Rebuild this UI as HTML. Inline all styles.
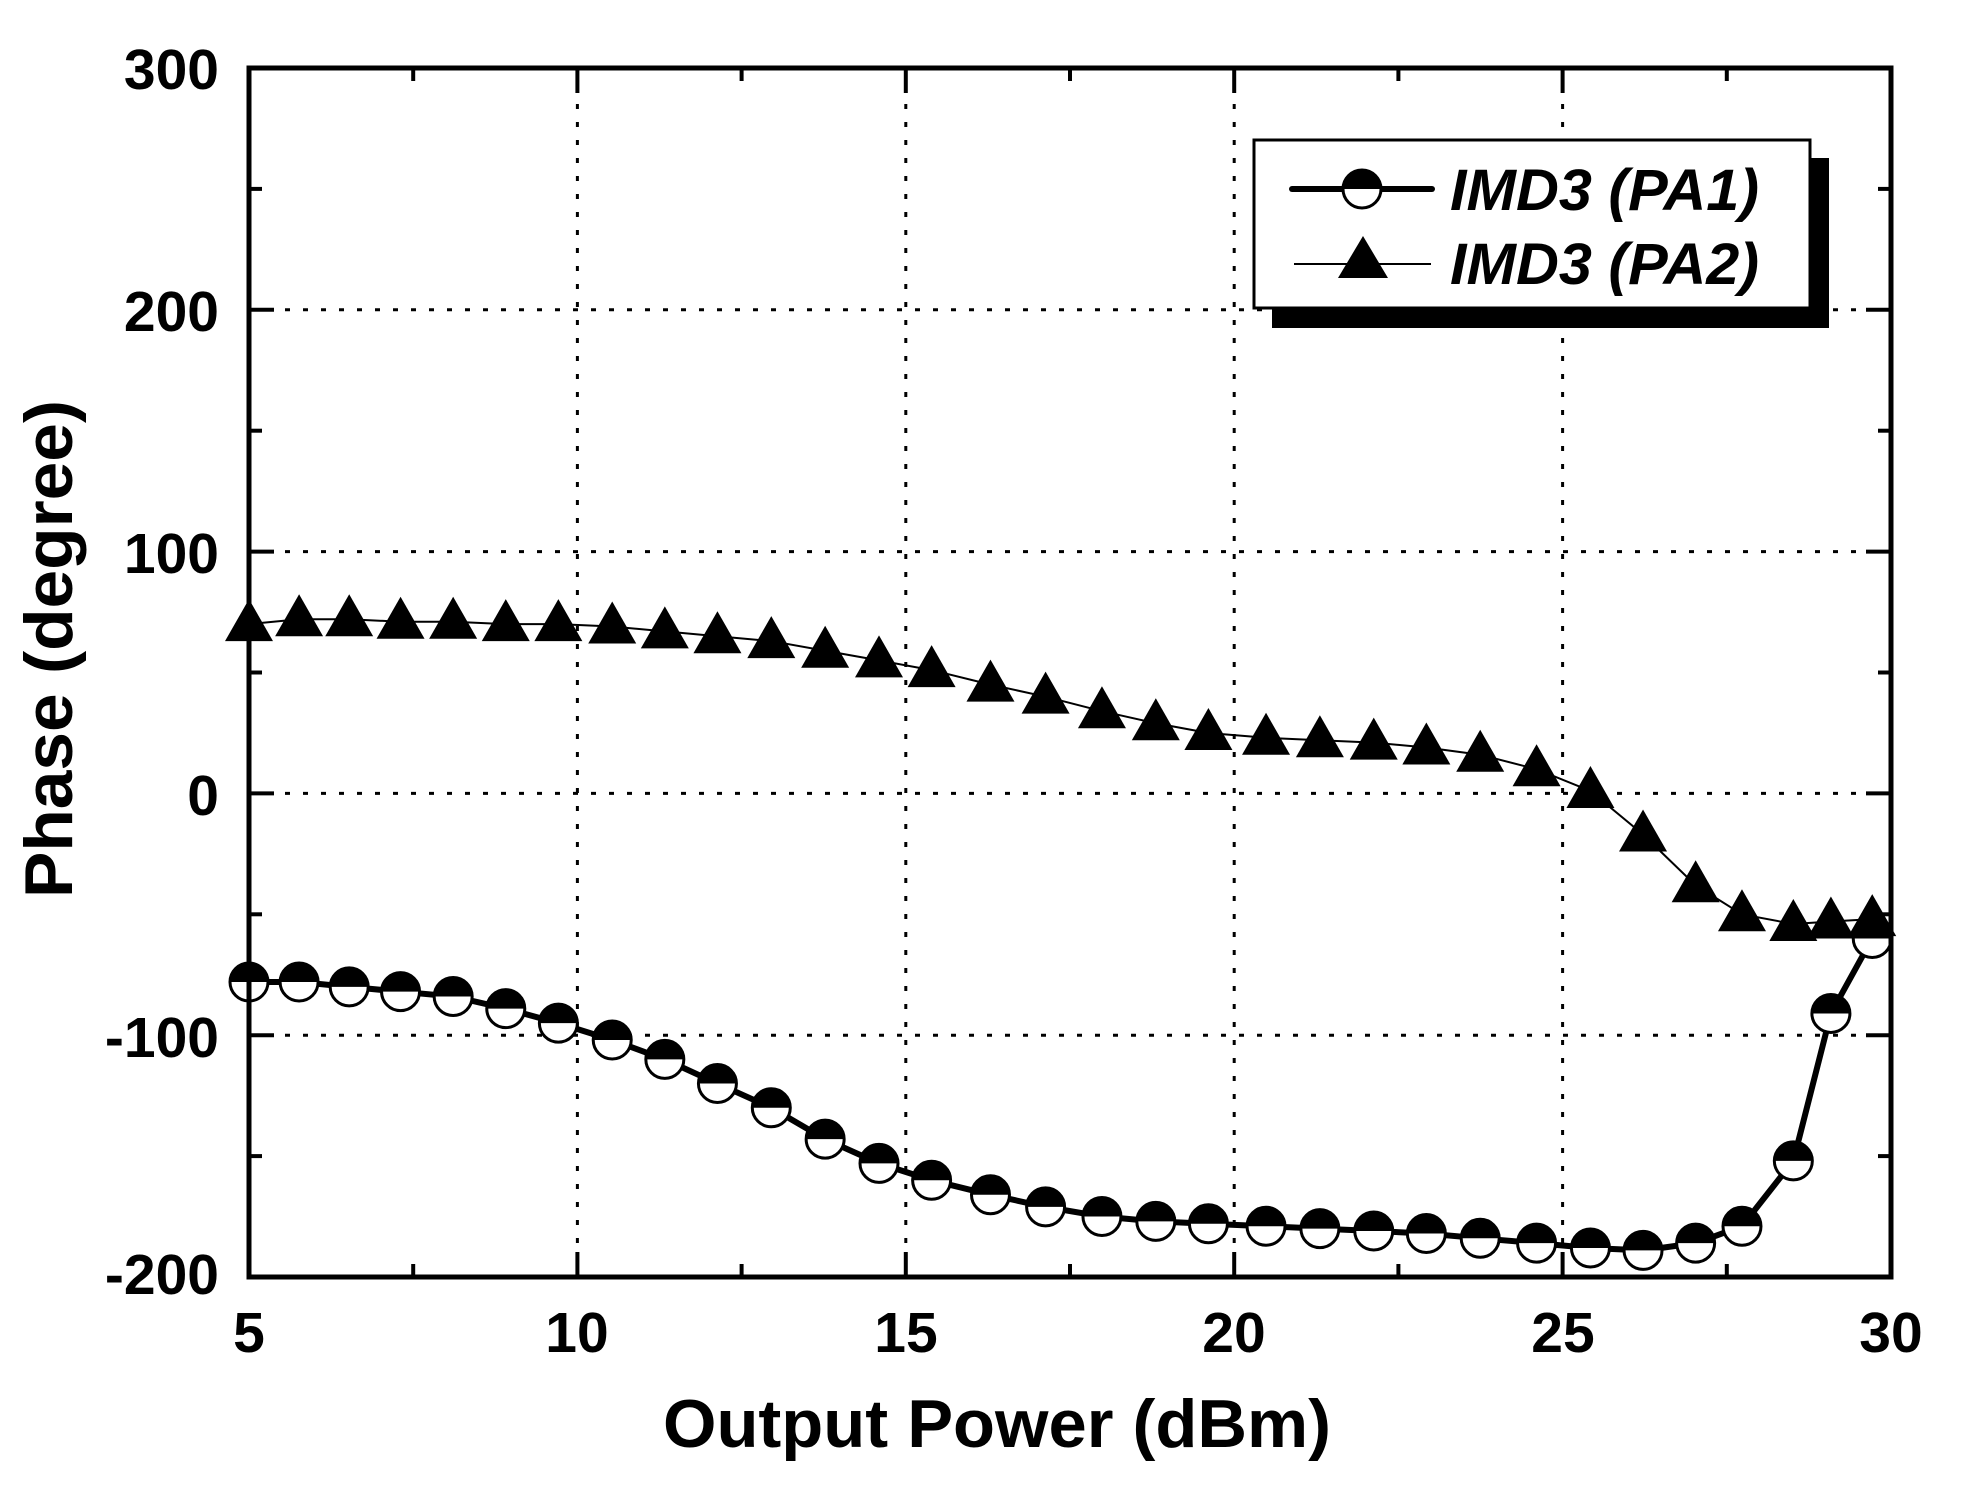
<!DOCTYPE html>
<html><head><meta charset="utf-8"><style>
html,body{margin:0;padding:0;background:#fff;}
svg{display:block;}
text{font-family:"Liberation Sans",Arial,sans-serif;font-weight:bold;fill:#000;}
</style></head><body>
<svg id="s" width="1964" height="1493" viewBox="0 0 1964 1493" xmlns="http://www.w3.org/2000/svg">
<rect width="1964" height="1493" fill="#fff"/>
<g id="grid" stroke="#000" stroke-width="3" stroke-dasharray="5 13" fill="none"></g>
<g id="ticks" stroke="#000" stroke-width="4" fill="none"></g>
<g id="series"></g>
<rect x="249" y="68" width="1642" height="1209" fill="none" stroke="#000" stroke-width="5"/>
<g font-size="57" text-anchor="end">
<text x="219" y="89">300</text>
<text x="219" y="331">200</text>
<text x="219" y="573">100</text>
<text x="219" y="815">0</text>
<text x="219" y="1057">-100</text>
<text x="219" y="1294">-200</text>
</g>
<g font-size="57" text-anchor="middle">
<text x="249" y="1352">5</text>
<text x="577" y="1352">10</text>
<text x="906" y="1352">15</text>
<text x="1234" y="1352">20</text>
<text x="1563" y="1352">25</text>
<text x="1891" y="1352">30</text>
</g>
<text x="997" y="1447" font-size="68" text-anchor="middle" textLength="668" lengthAdjust="spacingAndGlyphs">Output Power (dBm)</text>
<text transform="translate(72,649) rotate(-90)" font-size="68" text-anchor="middle" textLength="498" lengthAdjust="spacingAndGlyphs">Phase (degree)</text>
<!-- legend -->
<rect x="1272" y="158" width="557" height="170" fill="#000"/>
<rect x="1254" y="140" width="556" height="168" fill="#fff" stroke="#000" stroke-width="3"/>
<line x1="1292" y1="189" x2="1432" y2="189" stroke="#000" stroke-width="6" stroke-linecap="round"/>
<circle cx="1362" cy="189" r="19" fill="#fff" stroke="#000" stroke-width="3"/>
<path d="M1343 189 A19 19 0 0 1 1381 189 Z" fill="#000"/>
<line x1="1294" y1="264" x2="1431" y2="264" stroke="#000" stroke-width="2"/>
<polygon points="1338,278 1388,278 1363,236" fill="#000"/>
<text x="1450" y="210" font-size="58" font-style="italic" textLength="309" lengthAdjust="spacingAndGlyphs">IMD3 (PA1)</text>
<text x="1450" y="284" font-size="58" font-style="italic" textLength="309" lengthAdjust="spacingAndGlyphs">IMD3 (PA2)</text>
</svg>
<script>
(function(){
var NS="http://www.w3.org/2000/svg";
function el(p,t,a){var e=document.createElementNS(NS,t);for(var k in a)e.setAttribute(k,a[k]);p.appendChild(e);return e;}
var L=249,R=1891,T=68,B=1277;
function X(d){return L+(d-5)*65.68;}
function Y(v){return 793.4-v*2.418;}
var g=document.getElementById('grid'),tk=document.getElementById('ticks'),s=document.getElementById('series');
[10,15,20,25].forEach(function(d){el(g,'line',{x1:X(d),y1:T,x2:X(d),y2:B});});
[200,100,0,-100].forEach(function(v){el(g,'line',{x1:L,y1:Y(v),x2:R,y2:Y(v)});});
for(var d=5;d<=30.01;d+=2.5){var maj=Math.abs(d%5)<0.01,l=maj?25:13;
 el(tk,'line',{x1:X(d),y1:B,x2:X(d),y2:B-l});el(tk,'line',{x1:X(d),y1:T,x2:X(d),y2:T+l});}
for(var v=-200;v<=300;v+=50){var maj=v%100==0,l=maj?25:13;
 el(tk,'line',{x1:L,y1:Y(v),x2:L+l,y2:Y(v)});el(tk,'line',{x1:R,y1:Y(v),x2:R-l,y2:Y(v)});}
var ix=[197,237,277,318,360,402,444,487,529,571,614,657,700,742,789,833,878,921,963,1009,1052,1095,1137,1180,1225,1268,1310,1352,1389,1430,1460,1493];
var p2=[70,72,72,71,71,70,70,69,67,65,63,59,55,51,45,40,34,29,25,23,22,21,19,16,10,1,-17,-38,-50,-54,-53,-52];
var p1=[-78,-78,-80,-82,-84,-89,-95,-102,-110,-120,-130,-143,-153,-160,-166,-171,-175,-177,-178,-179,-180,-181,-182,-184,-186,-188,-189,-186,-179,-152,-91,-60];
function PX(i){return 249+(ix[i]-197)*1.2525;}
var pts2=ix.map(function(_,i){return PX(i)+','+Y(p2[i]);}).join(' ');
var pts1=ix.map(function(_,i){return PX(i)+','+Y(p1[i]);}).join(' ');
el(s,'polyline',{points:pts2,fill:'none',stroke:'#000','stroke-width':2});
el(s,'polyline',{points:pts1,fill:'none',stroke:'#000','stroke-width':6,'stroke-linejoin':'round'});
ix.forEach(function(_,i){var x=PX(i),y=Y(p2[i]);
 el(s,'polygon',{points:(x-24)+','+(y+17)+' '+(x+24)+','+(y+17)+' '+x+','+(y-25),fill:'#000'});});
ix.forEach(function(_,i){var x=PX(i),y=Y(p1[i]),r=19;
 el(s,'circle',{cx:x,cy:y,r:r,fill:'#fff',stroke:'#000','stroke-width':3});
 el(s,'path',{d:'M'+(x-r)+' '+y+' A'+r+' '+r+' 0 0 1 '+(x+r)+' '+y+' Z',fill:'#000'});});
})();
</script>
</body></html>
